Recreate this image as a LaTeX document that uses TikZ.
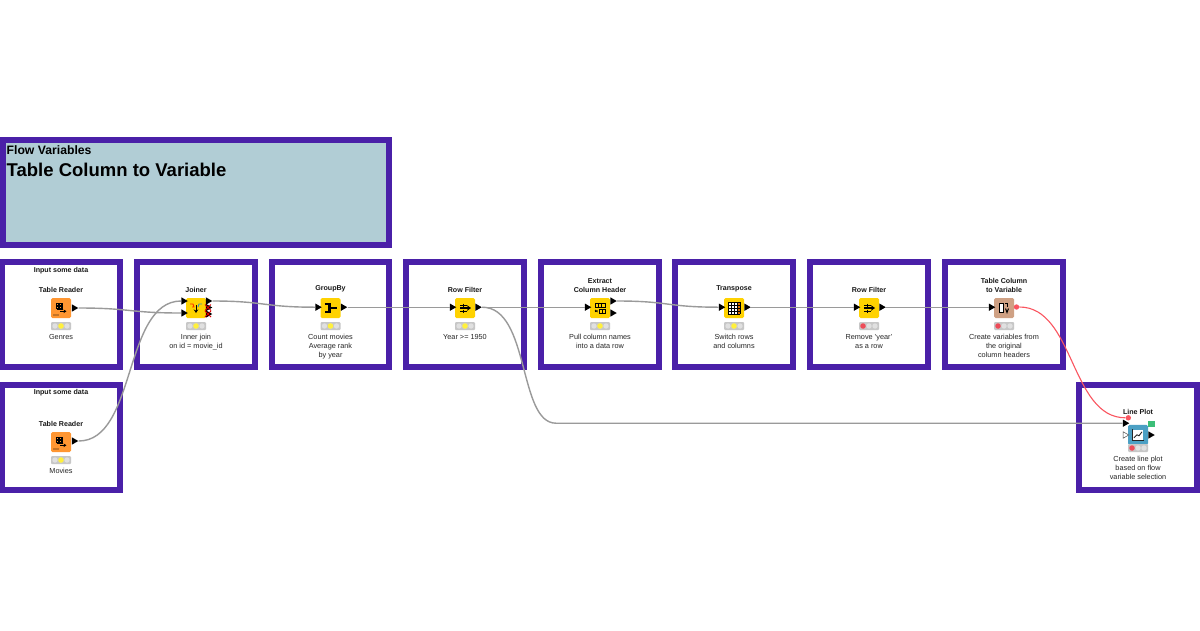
\documentclass[tikz,border=0pt]{standalone}
\usepackage{fontspec}
\setmainfont{Liberation Sans}
\usetikzlibrary{arrows.meta,shapes.geometric}
\usepackage{xcolor}
\definecolor{framepurple}{HTML}{4A20A8}
\definecolor{headbg}{HTML}{B1CDD5}
\definecolor{readerorange}{HTML}{FF9632}
\definecolor{manipyellow}{HTML}{FFD200}
\definecolor{varbrown}{HTML}{CFA184}
\definecolor{plotblue}{HTML}{4BA0C4}
\definecolor{lampyellow}{HTML}{FFF03C}
\definecolor{lampred}{HTML}{EC4C58}
\definecolor{linkred}{HTML}{FA5560}
\definecolor{linkgrey}{HTML}{9A9A9A}
\definecolor{viewgreen}{HTML}{3CBE78}
\tikzset{
	noteframe/.style={draw=framepurple,line width=6,fill=white,minimum width=117.4,minimum height=105,inner sep=0},
	tool/.style={rounded corners=1.5,minimum size=20,inner sep=0},
	lampbar/.style={fill=black!22,rounded corners=1,minimum width=20,minimum height=8,inner sep=0},
	porttri/.style={regular polygon,regular polygon sides=3,shape border rotate=-90,fill=black,minimum size=8.5,inner sep=0},
	varport/.style={circle,fill=linkred,minimum size=5.4,inner sep=0},
	wire/.style={draw=linkgrey,line width=1.4},
	varwire/.style={draw=linkred,line width=1.1},
	toolname/.style={font=\fontsize{7.1}{9}\selectfont\bfseries,align=center,anchor=south,inner sep=0,text=black!90},
	tooldesc/.style={font=\fontsize{7.3}{9}\selectfont,align=center,anchor=north,inner sep=0,text=black!85},
	icreader/.pic={
		\foreach \k in {-4.5,-3,-1.5,0,1.5}
			\draw[line width=.5] (\k,-4.7)--(\k,1.3) (-4.5,\k+.1)--(1.5,\k+.1);
		\draw[-{Stealth[length=3,width=3.5]},line width=1] (-1,3.3)--(5.5,3.3);
		\foreach \k in {-7,-5,-3} \fill (\k,7) circle (.7);
	},
	icjoin/.pic={
		\draw[red!70!orange,line width=.8] (-6,-4)--(-3,-4)--(-2,-1)--(-4,-1);
		\draw[cyan!70!black,line width=.8] (6,-4)--(3,-4)--(2,-1);
		\draw[-{Stealth[length=3.5,width=4.5]},line width=1] (0,-3)--(0,5);
	},
	icgroup/.pic={
		\draw[line width=2.2] (-6,-4)--(-1,-4)--(-1,4)--(-6,4);
		\draw[line width=2.2] (-1,0)--(6,0);
	},
	icfilter/.pic={
		\draw[line width=.7] (-5,-3)--(2,-3) (-5,3)--(2,3);
		\draw[-{Stealth[length=4,width=5.5]},line width=1.3] (-5,0)--(6,0);
		\draw[line width=.7] (-2,-4.5)--(-2,-1.5) (-2,1.5)--(-2,4.5);
	},
	icextract/.pic={
		\draw[line width=.7] (-5,-5) rectangle (5,-1);
		\draw[line width=.7] (-1.7,-5)--(-1.7,-1) (1.7,-5)--(1.7,-1);
		\draw[line width=.7] (-1,1) rectangle (5,5) (2,1)--(2,5);
		\draw[line width=.8] (-5,2)--(-2.5,4);
		\fill (-4.5,3.5) circle (.6) (-3,2.5) circle (.6);
	},
	ictranspose/.pic={
		\fill[white] (-6,-6) rectangle (6,6);
		\fill[orange!85!black] (3,-6) rectangle (6,6);
		\foreach \k in {-6,-3,0,3,6}
			\draw[line width=.8] (\k,-6)--(\k,6) (-6,\k)--(6,\k);
	},
	icvariable/.pic={
		\draw[fill=white,line width=.8] (-5,-4.5) rectangle (-1,4.5);
		\draw[line width=1] (1.5,.5)--(3,4.5)--(4.5,.5);
		\draw[line width=.6] (1,-5)--(3,-5)--(3,-1);
	},
	icplot/.pic={
		\fill[white] (-5,-5) rectangle (5,5);
		\draw[line width=.9,black!85] (-6,-5.5)--(-6,5.5)--(6,5.5);
		\draw[line width=.9,black!85] (-4,3)--(-1,0)--(1,1)--(4,-3);
	}
}
\begin{document}
\begin{tikzpicture}[x=1pt,y=-1pt,>=Stealth]
	\useasboundingbox[fill=white] (0,0) rectangle (1200,630);
	\node[noteframe,fill=headbg,minimum width=386,minimum height=104.4] (head) at (196,192.5) {};
	\node[anchor=west,inner sep=0,font=\fontsize{12.2}{15}\selectfont\bfseries] (headsmall) at (6.5,150.5) {Flow Variables};
	\node[anchor=west,inner sep=0,font=\fontsize{18.5}{22}\selectfont\bfseries] (headbig) at (6.5,169.5) {Table Column to Variable};
	\foreach \n/\x/\y/\iy/\fy/\c/\ic/\ttl/\dsc/\lc/\lo in {
			rdA/61/308/308/314.8/readerorange/icreader/{Table Reader}/{Genres}/lampyellow/0,
			rdB/61/442/442/437.2/readerorange/icreader/{Table Reader}/{Movies}/lampyellow/0,
			join/196/308/308/314.8/manipyellow/icjoin/{Joiner}/{Inner join\\on id = movie\_id}/lampyellow/0,
			group/330.5/308/308/314.8/manipyellow/icgroup/{GroupBy}/{Count movies\\Average rank\\by year}/lampyellow/0,
			fltA/465/308/308/314.8/manipyellow/icfilter/{Row Filter}/{Year >= 1950}/lampyellow/0,
			extr/600/308/308/314.8/manipyellow/icextract/{Extract\\Column Header}/{Pull column names\\into a data row}/lampyellow/0,
			trans/734/308/308/314.8/manipyellow/ictranspose/{Transpose}/{Switch rows\\and columns}/lampyellow/0,
			fltB/869/308/308/314.8/manipyellow/icfilter/{Row Filter}/{Remove 'year'\\as a row}/lampred/-6,
			tcv/1004/308/308/314.8/varbrown/icvariable/{Table Column\\to Variable}/{Create variables from\\the original\\column headers}/lampred/-6,
			plot/1138/430/434.8/437.2/plotblue/icplot/{Line Plot}/{Create line plot\\based on flow\\variable selection}/lampred/-6}
		{
		\node[noteframe] (f\n) at (\x,\fy) {};
		\node[tool,fill=\c] (\n) at (\x,\iy) {};
		\pic at (\x,\iy) {\ic};
		\node[lampbar] (l\n) at (\x,\y+18) {};
		\foreach \k in {-6,0,6}
			\fill[white!88!black] (\x+\k,\y+18) circle (2.7);
		\fill[\lc] (\x+\lo,\y+18) circle (2.8);
		\node[toolname] (t\n) at (\x,\y-15.5) {\ttl};
		\node[tooldesc] (d\n) at (\x,\y+26.5) {\dsc};
	};
	\node[toolname] (noteA) at (61,274.5) {Input some data};
	\node[toolname] (noteB) at (61,396) {Input some data};
	\foreach \p/\x/\y in {
			rdAo/74/308, rdBo/74/441,
			joinA/183.5/301, joinB/183.5/313, joinO/208/301, joinP/208/307.5, joinQ/208/314,
			groupI/317.5/307.2, groupO/343/307.2,
			fltAi/452/307.2, fltAo/477.5/307.2,
			extrI/587/307.2, extrO/612.5/301, extrP/612.5/313,
			transI/721/307.2, transO/746.5/307.2,
			fltBi/856/307.2, fltBo/881.5/307.2,
			tcvI/991/307.2, plotI/1125/423.2, plotO/1150.5/435}
		{
		\node[porttri] (\p) at (\x,\y) {};
	};
	\node[porttri,fill=white,draw=black!70,line width=.5,minimum size=7.5] (plotH) at (1125,435) {};
	\node[fill=viewgreen,minimum width=7,minimum height=5.5,inner sep=0] (plotG) at (1151,424) {};
	\node[varport] (tcvV) at (1016.5,307) {};
	\node[varport] (plotV) at (1128.3,417.8) {};
	\foreach \p in {joinP,joinQ}
		\draw[red!85!black,line width=.8] (\p)+(-3,-3)--+(3,3) (\p)+(-3,3)--+(3,-3);
	\coordinate (bendA) at (556,423.2);
	\draw[wire] (rdAo.east) .. controls +(52,0) and +(-52,0) .. (joinB.west);
	\draw[wire] (rdBo.east) .. controls +(58,0) and +(-58,0) .. (joinA.west);
	\draw[wire] (joinO.east) .. controls +(52,0) and +(-52,0) .. (groupI.west);
	\draw[wire] (groupO.east)--(fltAi.west);
	\draw[wire] (fltAo.east)--(extrI.west);
	\draw[wire] (fltAo.east) .. controls +(48,0) and +(-38,0) .. (bendA)--(plotI.west);
	\draw[wire] (extrO.east) .. controls +(52,0) and +(-52,0) .. (transI.west);
	\draw[wire] (transO.east)--(fltBi.west);
	\draw[wire] (fltBo.east)--(tcvI.west);
	\draw[varwire] (tcvV) .. controls +(58,0) and +(-58,0) .. (plotV);
\end{tikzpicture}
\end{document}
